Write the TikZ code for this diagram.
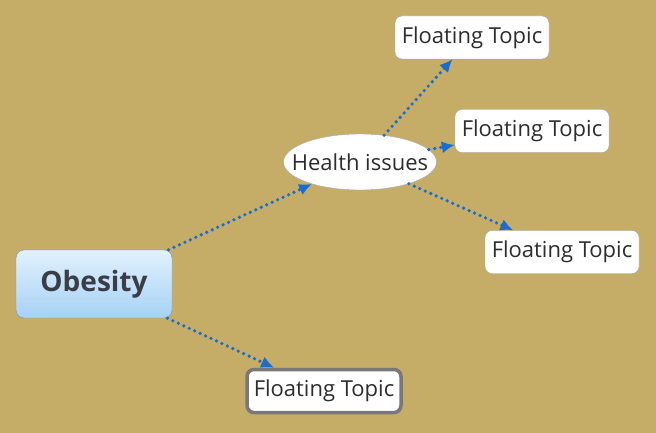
\documentclass[tikz,border=0pt]{standalone}
\usepackage{fontspec}
\setmainfont{Open Sans}
\usepackage{tikz}
\usetikzlibrary{arrows.meta,shapes.geometric}
\definecolor{paper}{RGB}{197,173,103}
\definecolor{link}{RGB}{26,108,205}
\definecolor{topictext}{RGB}{45,45,45}
\definecolor{rootline}{RGB}{120,150,180}
\definecolor{roottop}{RGB}{225,241,253}
\definecolor{rootbottom}{RGB}{166,210,245}
\tikzstyle{every topic} = [draw=gray!70, fill=white, rounded corners=7pt, inner sep=0pt, text=topictext]
\tikzstyle{topic} = [every topic, minimum width=154pt, minimum height=43pt, font=\fontsize{22}{26}\selectfont]
\tikzstyle{link} = [draw=link, line width=3.6pt, line cap=round, dash pattern=on 0pt off 6pt, -{Latex[length=13pt,width=12pt]}]

\begin{document}
\begin{tikzpicture}[x=1pt, y=-1pt]
                    \fill[paper] (0,0) rectangle (656,433);
                    \useasboundingbox (0,0) rectangle (656,433);

                    \node[draw=rootline, top color=roottop, bottom color=rootbottom, rounded corners=8pt,
                          minimum width=156pt, minimum height=68pt, inner sep=0pt,
                          text={rgb,255:red,58;green,61;blue,69}, font=\fontsize{28}{33}\selectfont\bfseries] (obesity) at (94,284) {Obesity};

                    \node[ellipse, draw=gray!70, fill=white, minimum width=153pt, minimum height=56pt, inner sep=0pt,
                          text=topictext, font=\fontsize{22}{26}\selectfont] (health) at (360,162) {\makebox[0pt]{Health issues}};

                    \node[topic] (topicA) at (472,37.5) {Floating Topic};
                    \node[topic] (topicB) at (532,131) {Floating Topic};
                    \node[topic] (topicC) at (562,252) {Floating Topic};
                    \node[topic, draw={rgb,255:red,120;green,120;blue,120}, line width=3.5pt] (topicD) at (324,391) {Floating Topic};

                    \draw[link] (obesity) -- (health);
                    \draw[link] (obesity) -- (topicD);
                    \draw[link] (health) -- (topicA);
                    \draw[link] (health) -- (topicB);
                    \draw[link] (health) -- (topicC);
                \end{tikzpicture}
\end{document}
